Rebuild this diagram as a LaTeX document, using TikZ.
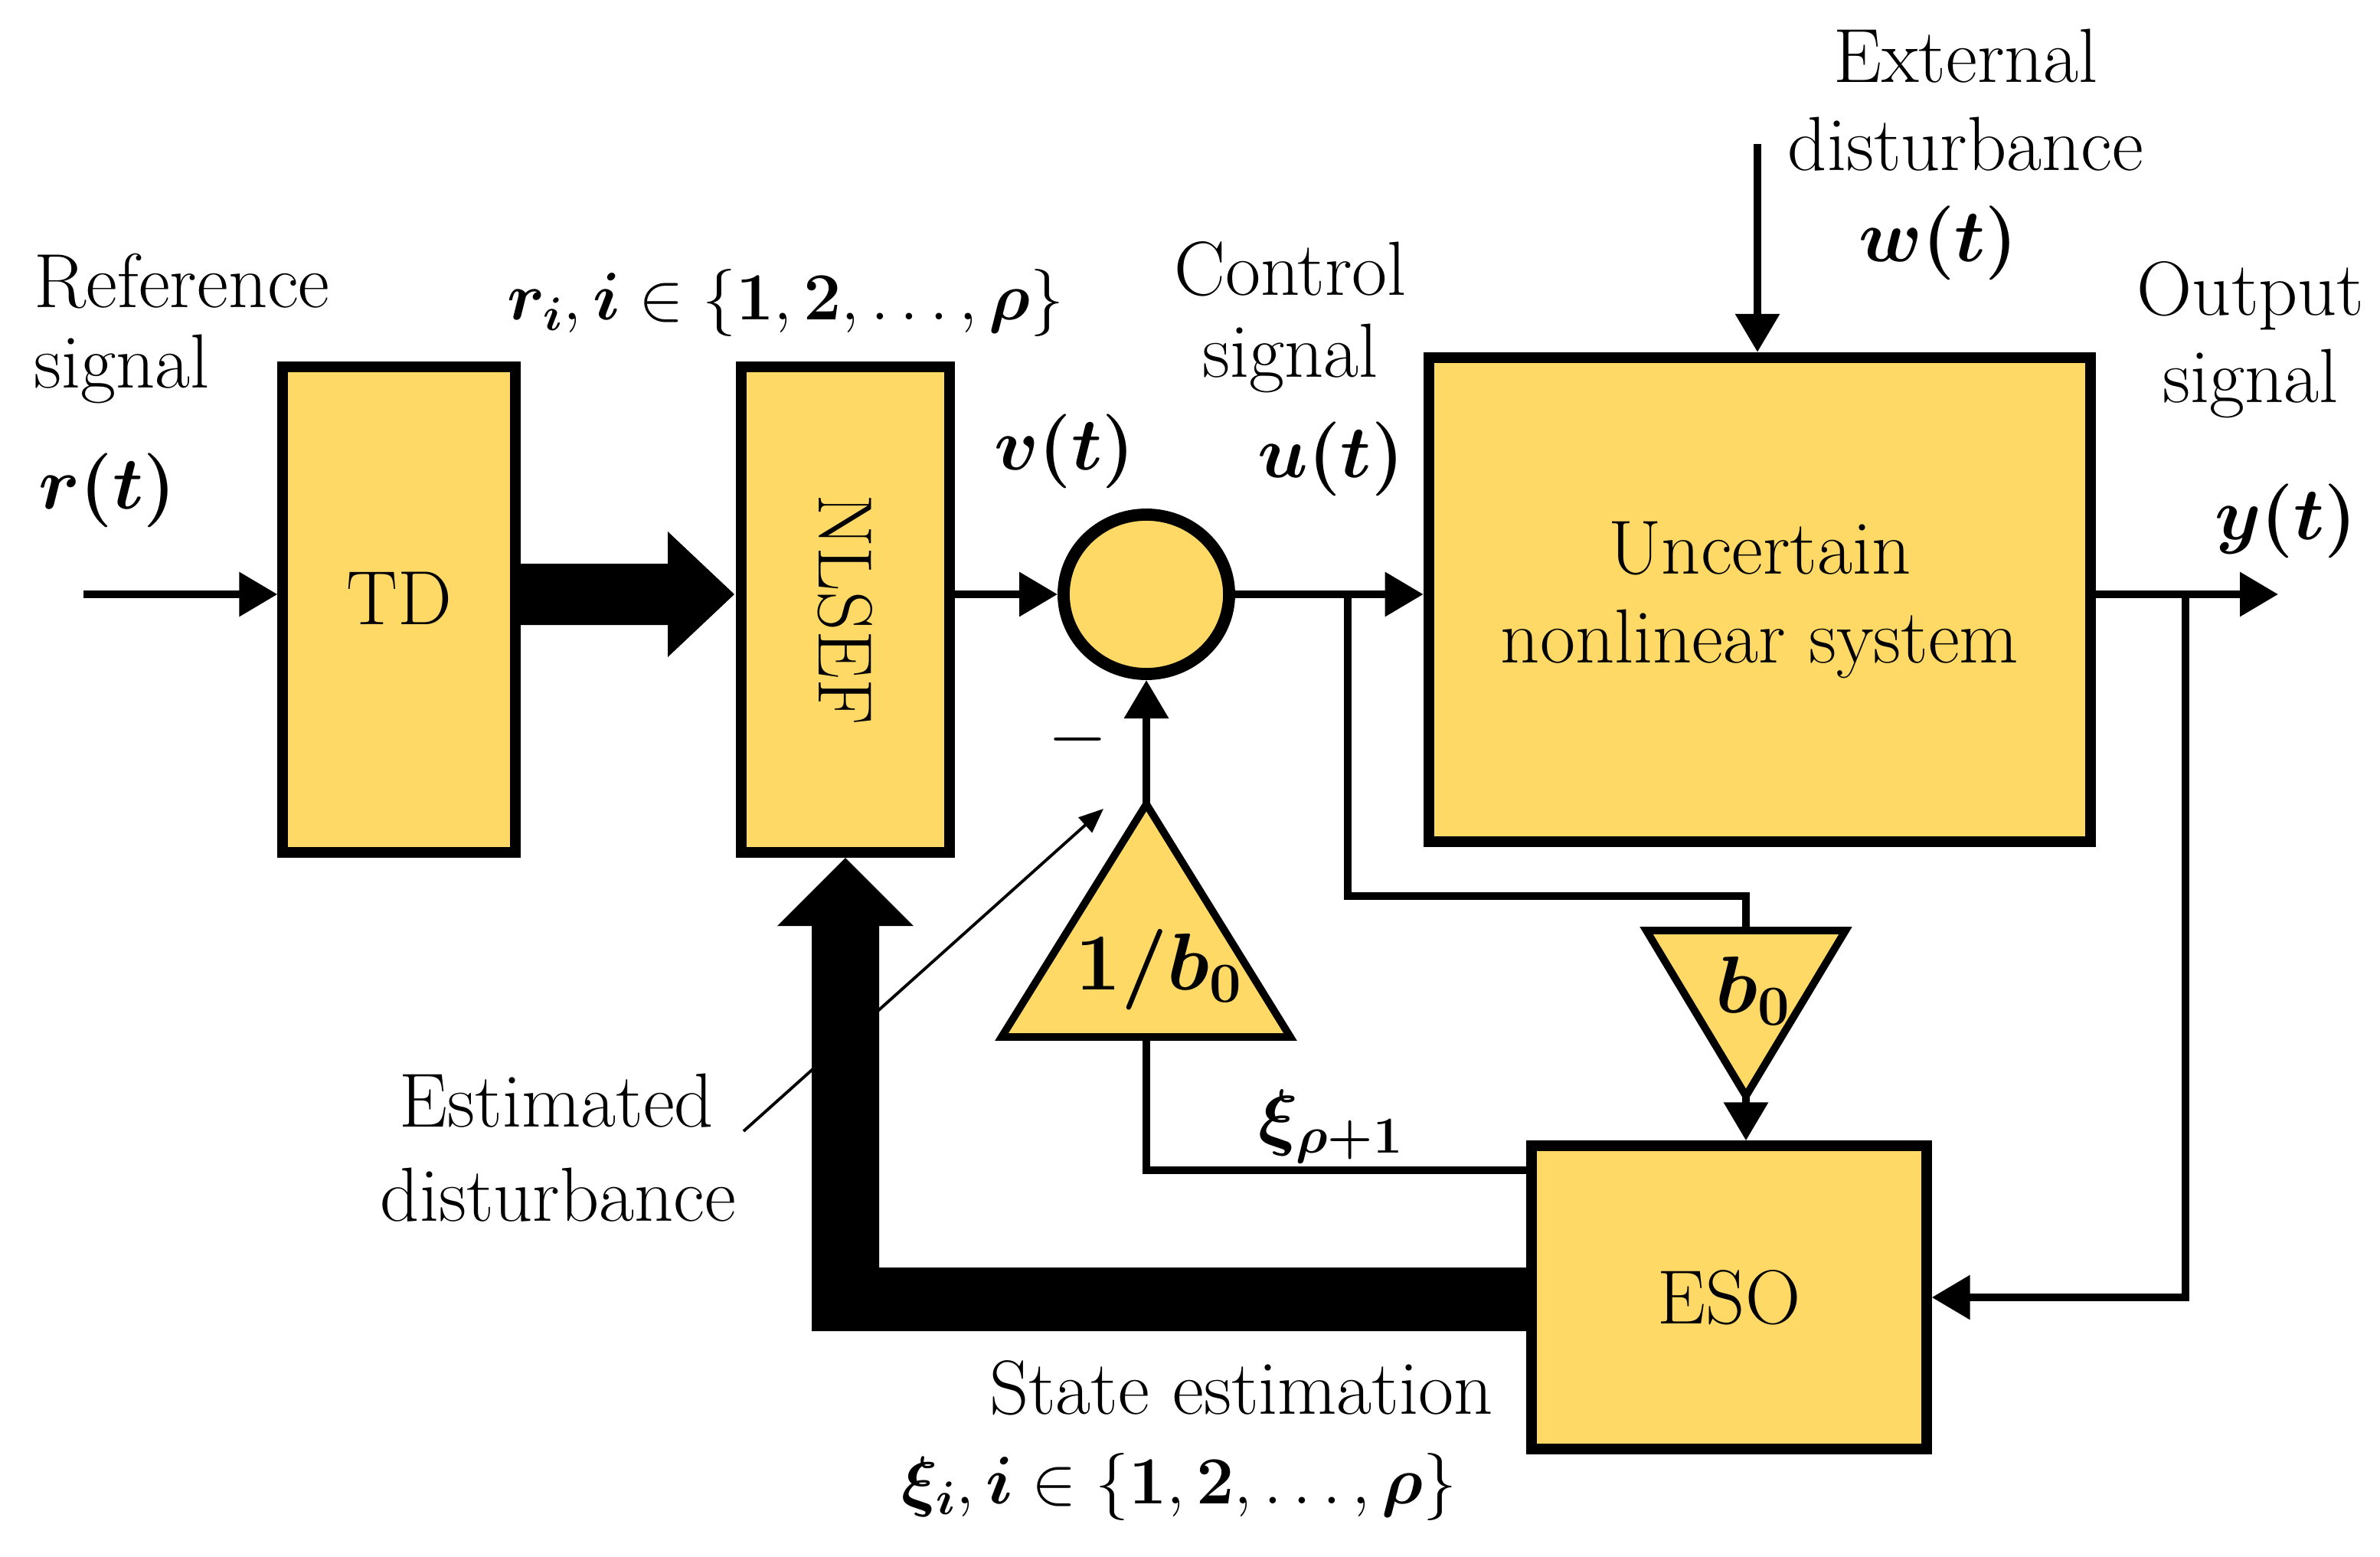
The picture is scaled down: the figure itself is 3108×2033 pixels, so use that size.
\RequirePackage{fix-cm}
\documentclass[tikz,border=0pt]{standalone}
\usepackage{amsmath}
\usetikzlibrary{arrows.meta,shapes.geometric}
\definecolor{boxyellow}{RGB}{255,217,102}
\begin{document}
\begin{tikzpicture}[x=0.01cm,y=-0.01cm,
  lbl/.style={inner sep=0pt,font=\fontsize{28.5}{33}\selectfont},
  mlbl/.style={inner sep=0pt,font=\fontsize{27.5}{33}\selectfont},
  glbl/.style={inner sep=0pt,font=\fontsize{30}{36}\selectfont},
  slbl/.style={inner sep=0pt,font=\fontsize{25}{30}\selectfont},
  blk/.style={draw=black,line width=4pt,fill=boxyellow,inner sep=0pt,font=\fontsize{28.5}{33}\selectfont,align=center},
  conn/.style={line width=2.8pt},
  arr/.style={conn,-{Triangle[length=0.5cm,width=0.56cm]}},
  leader/.style={line width=1.1pt,-{Triangle[length=0.32cm,width=0.26cm]}},
  gain/.style={draw=black,fill=boxyellow,line width=2.8pt,line join=miter}
]
\useasboundingbox[fill=white] (0,0) rectangle (3108,2033);

% blocks
\node[blk,minimum width=3.03cm,minimum height=6.34cm] (td) at (521,796) {\raisebox{0.3cm}{TD}};
\node[blk,minimum width=2.72cm,minimum height=6.34cm] (nlsef) at (1104,796) {\rotatebox{-90}{NLSEF}};
\node[blk,minimum width=8.64cm,minimum height=6.32cm] (unc) at (2298,783) {Uncertain\\nonlinear system};
\node[blk,minimum width=5.15cm,minimum height=3.95cm] (eso) at (2258,1694) {ESO};
\node[draw=black,fill=boxyellow,line width=4.5pt,ellipse,inner sep=0pt,minimum width=2.16cm,minimum height=2.08cm] (sum) at (1497,776) {};

% gain 1/b0
\coordinate (ga) at (1497,1050);
\coordinate (gl) at (1308,1354);
\coordinate (gr) at (1685,1354);
\coordinate (gb) at (1497,1354);
\draw[gain] (ga) -- (gl) -- (gr) -- cycle;
\node[glbl] (gtext) at (1514,1266) {$\boldsymbol{1/b_0}$};

% gain b0
\coordinate (bl) at (2150,1215);
\coordinate (br) at (2410,1215);
\coordinate (btop) at (2280,1215);
\coordinate (bapex) at (2280,1431);
\draw[gain] (bl) -- (br) -- (bapex) -- cycle;
\node[glbl] (btext) at (2290,1294) {$\boldsymbol{b_0}$};

% connectors
\coordinate (rin) at (109,776);
\draw[arr] (rin) -- (td.west |- rin);
\fill[black] (680,736) -- (872,736) -- (872,694) -- (959,776) -- (872,858) -- (872,816) -- (680,816) -- cycle;
\draw[arr] (nlsef.east |- rin) -- (sum.west);
\draw[arr] (sum.east) -- (unc.west |- sum.east);
\coordinate (bu) at (1760,776);
\coordinate (bk) at (2280,1170);
\draw[conn] (bu) |- (bk) -- (btop);
\coordinate (yout) at (2975,776);
\draw[arr] (unc.east |- yout) -- (yout);
\coordinate (yb) at (2854,776);
\draw[arr] (yb) |- (eso.east);
\coordinate (wtop) at (2295,188);
\draw[arr] (wtop) -- (wtop |- unc.north);
\draw[arr] (bapex) -- (bapex |- eso.north);
\draw[conn] ([yshift=1.66cm]eso.west) -| (gb);
\draw[arr] (ga) -- (sum.south);
\fill[black] (1994,1655) -- (1148,1655) -- (1148,1209) -- (1193,1209) -- (nlsef.south) -- (1015,1209) -- (1060,1209) -- (1060,1738) -- (1994,1738) -- cycle;
\coordinate (lstart) at (971,1477);
\coordinate (lend) at (1441,1056);
\draw[leader] (lstart) -- (lend);

% labels
\node[lbl,anchor=west] (ref1) at (44,367) {Reference};
\node[lbl,anchor=west] (ref2) at (44,482) {signal};
\node[mlbl,anchor=west] (rt) at (50,640) {$\boldsymbol{r(t)}$};
\node[slbl] (ri) at (1026,396) {$\boldsymbol{r_i},\boldsymbol{i}\in\{\mathbf{1},\mathbf{2},\ldots,\boldsymbol{\rho}\}$};
\node[mlbl] (vt) at (1390,589) {$\boldsymbol{v(t)}$};
\node[lbl] (ctl1) at (1685,351) {Control};
\node[lbl] (ctl2) at (1685,468) {signal};
\node[mlbl] (ut) at (1738,599) {$\boldsymbol{u(t)}$};
\node[lbl] (ext1) at (2567,73) {External};
\node[lbl] (ext2) at (2567,188) {disturbance};
\node[mlbl] (wt) at (2531,317) {$\boldsymbol{w(t)}$};
\node[lbl] (out1) at (2939,386) {Output};
\node[lbl] (out2) at (2939,501) {signal};
\node[mlbl] (yt) at (2985,680) {$\boldsymbol{y(t)}$};
\node[mlbl] (xirho) at (1738,1471) {$\boldsymbol{\xi_{\rho+1}}$};
\node[lbl] (est1) at (727,1437) {Estimated};
\node[lbl] (est2) at (729,1560) {disturbance};
\node[lbl] (st) at (1621,1812) {State estimation};
\node[slbl] (xii) at (1540,1942) {$\boldsymbol{\xi_i},\boldsymbol{i}\in\{\mathbf{1},\mathbf{2},\ldots,\boldsymbol{\rho}\}$};
\node[lbl] (minus) at (1407,965) {$-$};
\end{tikzpicture}
\end{document}
